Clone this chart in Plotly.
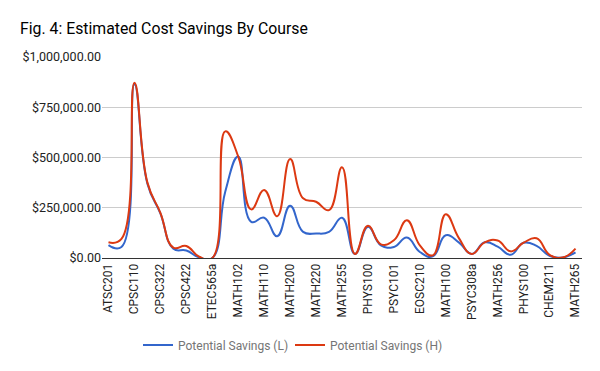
import plotly.graph_objects as go

tick_labels = ["ATSC201", "CPSC110", "CPSC322", "CPSC422", "ETEC565a", "MATH102",
               "MATH110", "MATH200", "MATH220", "MATH255", "PHYS100", "PSYC101",
               "EOSC210", "MATH100", "PSYC308a", "MATH256", "PHYS100", "CHEM211",
               "MATH265"]

savings_low = [64000, 55000, 865000, 370000, 222000, 46000, 37000, 3000, 0,
               330000, 505000, 180000, 200000, 108000, 260000, 130000, 122000,
               130000, 200000, 20000, 155000, 63000, 55000, 102000, 30000, 8000,
               113000, 78000, 20000, 78000, 57000, 16000, 76000, 60000, 11000,
               2000, 28000]

savings_high = [78000, 95000, 872000, 375000, 225000, 52000, 60000, 6000, 0,
                630000, 505000, 242000, 338000, 208000, 492000, 297000, 280000,
                238000, 452000, 20000, 160000, 68000, 88000, 188000, 63000, 13000,
                218000, 100000, 20000, 78000, 87000, 33000, 76000, 98000, 16000,
                2000, 47000]

n = len(savings_low)
x_idx = list(range(n))
tick_pos = x_idx[::2]

# page body has an 8px default margin; size the figure to fill the rest of the window
OFF = 8
W, H = 600 - OFF, 371 - OFF
ML, MR, MT, MB = 102 - OFF, 18, 57 - OFF, 113
pw, ph = W - ML - MR, H - MT - MB

fig = go.Figure()
fig.add_trace(go.Scatter(x=x_idx, y=savings_low, mode="lines",
                         name="Potential Savings (L)", legend="legend",
                         line=dict(color="#3366cc", width=2, shape="spline", smoothing=1.3)))
fig.add_trace(go.Scatter(x=x_idx, y=savings_high, mode="lines",
                         name="Potential Savings (H)", legend="legend2",
                         line=dict(color="#dc3912", width=2, shape="spline", smoothing=1.3)))

leg_y = (MT + ph - (345 - OFF)) / ph
leg_font = dict(size=12, color="#757575")

fig.update_layout(
    width=W, height=H,
    margin=dict(l=ML, r=MR, t=MT, b=MB, autoexpand=False),
    paper_bgcolor="white", plot_bgcolor="white",
    font=dict(family="Roboto", size=12, color="#222222"),
    title=dict(text="Fig. 4: Estimated Cost Savings By Course",
               x=(20 - OFF)/W, xanchor="left", xref="container",
               y=1-(28 - OFF)/H, yanchor="middle", yref="container",
               font=dict(family="Roboto", size=15.8, color="#000000")),
    xaxis=dict(range=[-0.5, n - 0.5], tickmode="array", tickvals=tick_pos,
               ticktext=tick_labels, tickangle=-90, showgrid=False,
               showline=True, linecolor="#333333", linewidth=1,
               ticks="", zeroline=False, automargin=False,
               tickfont=dict(size=12, color="#222222")),
    yaxis=dict(range=[0, 1000000], dtick=250000, tickformat="$,.2f",
               showgrid=True, gridcolor="#cccccc", gridwidth=1,
               zeroline=False, showline=False, ticks="", automargin=False,
               tickfont=dict(size=12.5, color="#222222")),
    legend=dict(orientation="h", x=(138 - 102)/pw, xanchor="left",
                y=leg_y, yanchor="middle", font=leg_font,
                bgcolor="rgba(0,0,0,0)"),
    legend2=dict(orientation="h", x=(290 - 102)/pw, xanchor="left",
                 y=leg_y, yanchor="middle", font=leg_font,
                 bgcolor="rgba(0,0,0,0)"),
    showlegend=True,
)

fig.write_html("out.html")
